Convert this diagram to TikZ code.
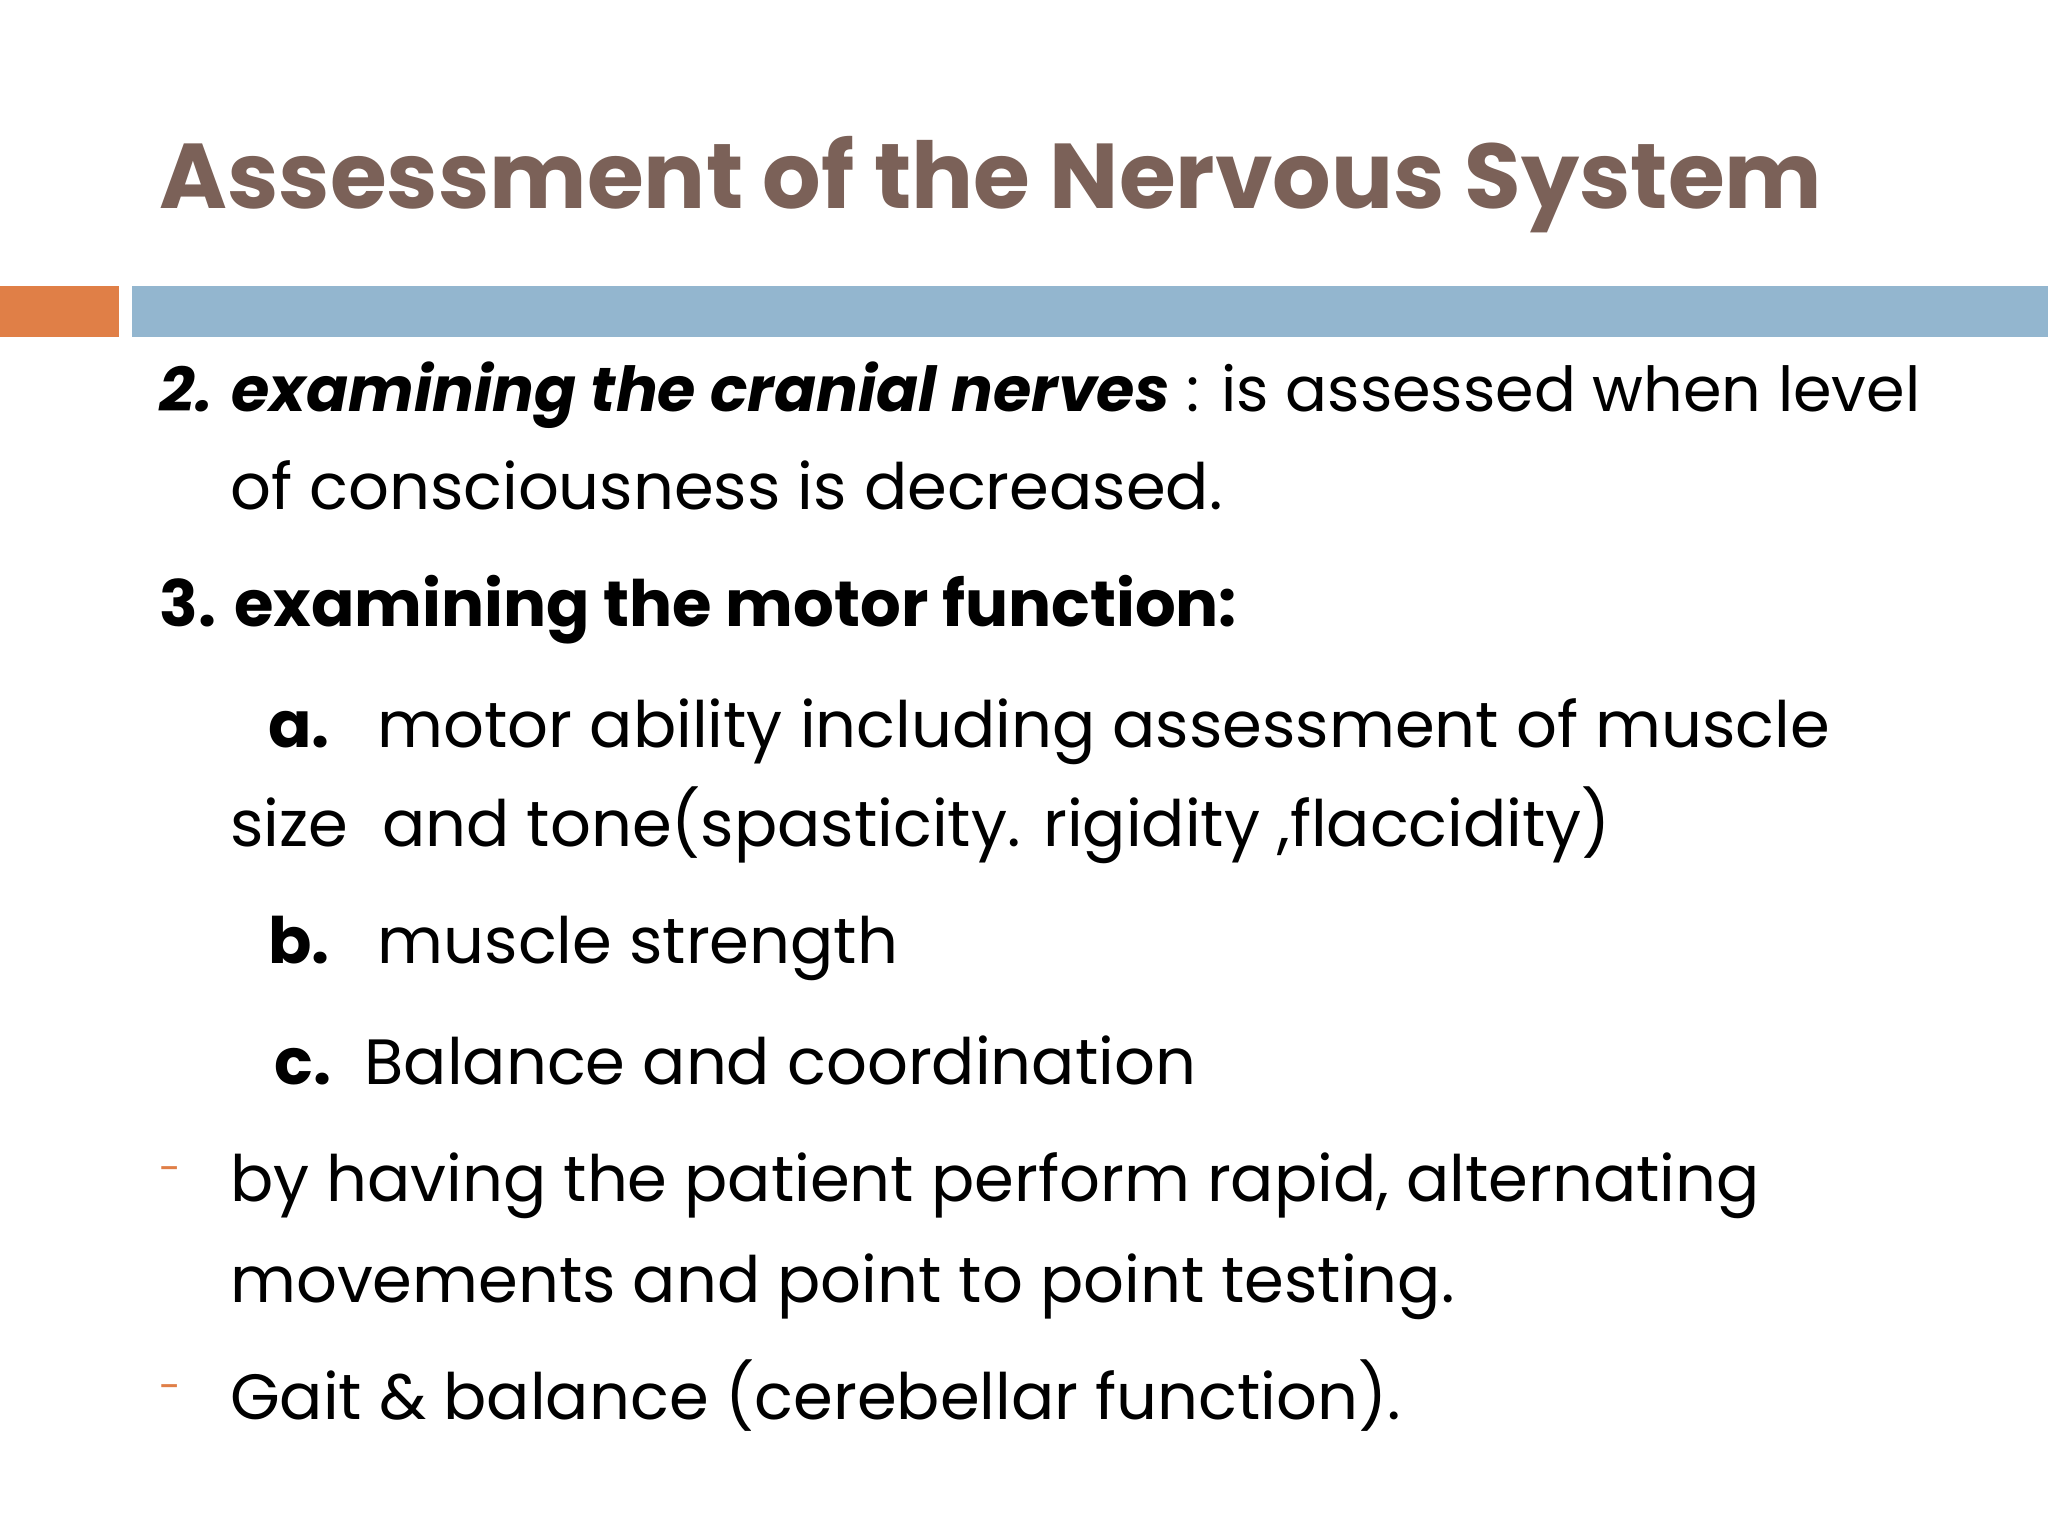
\documentclass[tikz,border=0pt]{standalone}
\usepackage{fontspec}
\setmainfont{Poppins}
\definecolor{titlec}{HTML}{7B6158}
\definecolor{orangec}{HTML}{E07F47}
\definecolor{bluec}{HTML}{93B6CF}
\begin{document}
\begin{tikzpicture}[x=1pt,y=-1pt,
  body/.style={anchor=base west,inner sep=0pt,font=\fontsize{49}{52}\selectfont},
  bul/.style={anchor=base west,inner sep=0pt,text=orangec,font=\fontsize{30}{30}\selectfont}]
\useasboundingbox (0,0) rectangle (1568,1176);
\fill[white] (0,0) rectangle (1568,1176);
\node[anchor=base west,inner sep=0pt,text=titlec,font=\fontsize{70.5}{76}\selectfont\bfseries] (title) at (122,160) {Assessment of the Nervous System};
\fill[orangec] (0,219) rectangle (91,258);
\fill[bluec] (101,219) rectangle (1568,258);
\node[body,font=\fontsize{47.5}{52}\selectfont] (l1) at (122,315) {\textbf{\textit{2. examining the cranial nerves}} : is assessed when level};
\node[body] (l2) at (176,390) {of consciousness is decreased.};
\node[body] (l3) at (122,480) {\textbf{3. examining the motor function:}};
\node[body] (l4a) at (205,572) {\textbf{a.}};
\node[body] (l4) at (289,572) {motor ability including assessment of muscle};
\node[body] (l5) at (176,648) {size\ \ and tone(spasticity. rigidity ,flaccidity)};
\node[body] (l6a) at (205,738) {\textbf{b.}};
\node[body] (l6) at (289,738) {muscle strength};
\node[body] (l7a) at (210,830) {\textbf{c.}};
\node[body] (l7) at (279,830) {Balance and coordination};
\node[bul] (b1) at (122,905) {-};
\node[body] (l8) at (176,920) {by having the patient perform rapid, alternating};
\node[body] (l9) at (176,997) {movements and point to point testing.};
\node[bul] (b2) at (122,1072) {-};
\node[body] (l10) at (176,1087) {Gait \& balance (cerebellar function).};
\end{tikzpicture}
\end{document}
